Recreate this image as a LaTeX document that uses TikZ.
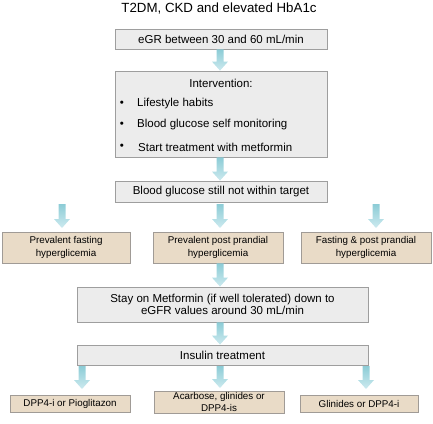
\documentclass[tikz,border=0pt]{standalone}
\usepackage{fontspec}
\setmainfont{Liberation Sans}
\usetikzlibrary{calc}
\definecolor{boxgray}{RGB}{236,236,236}
\definecolor{boxedge}{RGB}{158,158,158}
\definecolor{tanfill}{RGB}{233,219,199}
\definecolor{tanedge}{RGB}{160,155,150}
\definecolor{arrtop}{RGB}{140,204,214}
\definecolor{arrbot}{RGB}{205,234,239}
\newcommand\fatarr[2]{%
  \shade[top color=arrtop,bottom color=arrbot]
    let \p1=(#1), \p2=(#2) in
    (\x1-3.5pt,\y1) -- (\x1+3.5pt,\y1) -- (\x1+3.5pt,\y2+9pt) -- (\x1+8pt,\y2+9pt)
    -- (\x1,\y2) -- (\x1-8pt,\y2+9pt) -- (\x1-3.5pt,\y2+9pt) -- cycle;}
\begin{document}
\begin{tikzpicture}[x=1pt,y=-1pt,
  graybox/.style={draw=boxedge, fill=boxgray, line width=0.8pt, inner sep=0pt,
    font=\fontsize{11.5}{12.5}\selectfont, align=center},
  tanbox/.style={draw=tanedge, fill=tanfill, line width=0.8pt, inner sep=0pt,
    font=\fontsize{9.8}{12.8}\selectfont, align=center},
  plain/.style={inner sep=0pt, font=\fontsize{11.5}{12.5}\selectfont}]
\useasboundingbox (0,0) rectangle (433,423);

\node[font=\fontsize{13.3}{15}\selectfont] (title) at (219,9) {T2DM, CKD and elevated HbA1c};

\node[graybox, minimum width=212pt, minimum height=20pt] (b1) at (221,39) {eGR between 30 and 60 mL/min};

\node[graybox, minimum width=212pt, minimum height=86pt] (b2) at (221,114) {};
\node[plain] (b2t) at (221,83) {Intervention:};
\node[plain] (u1) at (122,104) {\textbullet};
\node[plain] (u2) at (122,125) {\textbullet};
\node[plain] (u3) at (122,147) {\textbullet};
\node[plain, anchor=west] (l1) at (137,104) {Lifestyle habits};
\node[plain, anchor=west] (l2) at (137,125) {Blood glucose self monitoring};
\node[plain, anchor=west] (l3) at (138,147) {Start treatment with metformin};

\node[graybox, minimum width=212pt, minimum height=21pt] (b3) at (221,191.5) {Blood glucose still not within target};

\node[tanbox, minimum width=128pt, minimum height=31pt] (tl) at (66,247.5) {Prevalent fasting\\hyperglicemia};
\node[tanbox, minimum width=130pt, minimum height=31pt] (tm) at (218,247.5) {Prevalent post prandial\\hyperglicemia};
\node[tanbox, minimum width=130pt, minimum height=31pt] (tr) at (366,247.5) {Fasting \& post prandial\\hyperglicemia};

\node[graybox, minimum width=291pt, minimum height=35pt] (b4) at (222.5,304.5) {Stay on Metformin (if well tolerated) down to\\eGFR values around 30 mL/min};
\node[graybox, minimum width=291pt, minimum height=20pt] (b5) at (222.5,355) {Insulin treatment};

\node[tanbox, minimum width=120pt, minimum height=17pt] (dl) at (70,403.5) {DPP4-i or Pioglitazon};
\node[tanbox, minimum width=130pt, minimum height=22pt] (dm) at (219,402) {Acarbose, glinides or\\DPP4-is};
\node[tanbox, minimum width=118pt, minimum height=17pt] (dr) at (359,403.5) {Glinides or DPP4-i};

\coordinate (sl) at (62,204);
\coordinate (el) at (62,228);
\coordinate (sm) at (220,204);
\coordinate (em) at (220,228);
\coordinate (sr) at (376,204);
\coordinate (er) at (376,228);
\coordinate (ql) at (82,366);
\coordinate (fl) at (82,389);
\coordinate (qm) at (220,366);
\coordinate (fm) at (220,388);
\coordinate (qr) at (366,366);
\coordinate (fr) at (366,389);

\fatarr{$(b1.south)+(-1pt,0)$}{$(b2.north)+(-1pt,0)$}
\fatarr{$(b2.south)+(-1pt,0)$}{$(b3.north)+(-1pt,0)$}
\fatarr{sl}{el}
\fatarr{sm}{em}
\fatarr{sr}{er}
\fatarr{$(tm.south)+(2pt,0)$}{$(b4.north)+(-2.5pt,0)$}
\fatarr{$(b4.south)+(-2.5pt,0)$}{$(b5.north)+(-2.5pt,0)$}
\fatarr{ql}{fl}
\fatarr{qm}{fm}
\fatarr{qr}{fr}
\end{tikzpicture}
\end{document}
